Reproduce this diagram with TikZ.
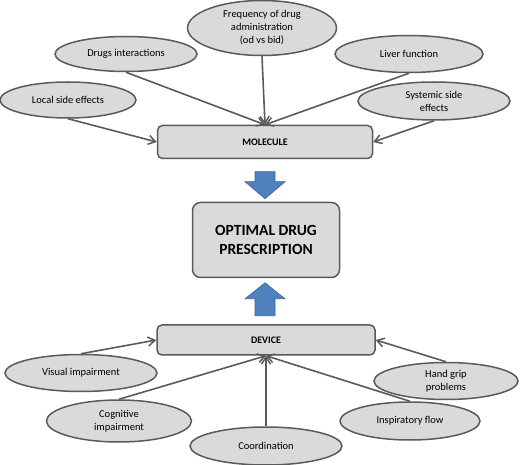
\documentclass[tikz,border=0pt]{standalone}
\usepackage{fontspec}
\setmainfont{Carlito}
\usetikzlibrary{arrows.meta,shapes.geometric,calc}
\definecolor{edge}   {HTML}{5A5A5A}
\definecolor{bubble} {HTML}{DADADA}
\definecolor{bluefill}{HTML}{4F81BD}
\definecolor{blueline}{HTML}{3A679C}
\tikzset{
  factor/.style  ={ellipse, draw=edge, fill=bubble, line width=1.5pt,
                   inner sep=0pt, align=center,
                   font=\fontsize{10.5}{13}\selectfont},
  group/.style   ={rectangle, rounded corners=5pt, draw=edge, fill=bubble,
                   line width=1.5pt, align=center,
                   font=\bfseries\fontsize{10}{12}\selectfont},
  goal/.style    ={group, rounded corners=8pt,
                   font=\bfseries\fontsize{15.5}{18.5}\selectfont},
  feed/.style    ={-{Straight Barb[length=7pt,width=9pt,line width=1.5pt]},
                   draw=edge, line width=1.6pt},
  bigarr/.style  ={draw=blueline, fill=bluefill, line width=0.6pt},
}
\begin{document}
\begin{tikzpicture}[x=1pt,y=-1pt]
  \useasboundingbox (0,0) rectangle (520,465);
  % molecule side
  \node[factor,minimum width=136pt,minimum height=36pt] (local) at (68,100) {Local side effects};
  \node[factor,minimum width=142pt,minimum height=35pt] (inter) at (126,54) {Drugs interactions};
  \node[factor,minimum width=149pt,minimum height=55pt] (freq) at (262,28)
    {Frequency of drug\\administration\\(od vs bid)};
  \node[factor,minimum width=148pt,minimum height=37pt] (liver) at (409,54) {Liver function};
  \node[factor,minimum width=152pt,minimum height=38pt] (syst) at (434,101)
    {Systemic side\\effects};
  \node[group,minimum width=215pt,minimum height=33pt] (mol) at (265,142) {MOLECULE};
  \draw[feed] (local.south) -- (mol.west);
  \draw[feed] (inter.south) -- (mol.north);
  \draw[feed] (freq.south) -- (mol.north);
  \draw[feed] (liver.south) -- (mol.north);
  \draw[feed] (syst.south) -- (mol.east);
  % centre
  \node[goal,minimum width=147pt,minimum height=75pt] (opt) at (266,240)
    {OPTIMAL DRUG\\PRESCRIPTION};
  \draw[bigarr] ($(opt.north)+(-11,-30)$) -- ++(20,0) -- ++(0,10) -- ++(10,0)
    -- ($(opt.north)+(-1,-3)$) -- ++(-20,-17) -- ++(10,0) -- cycle;
  \node[group,minimum width=218pt,minimum height=30pt] (dev) at (266,340) {DEVICE};
  \draw[bigarr] ($(opt.south)+(-11,37.5)$) -- ++(20,0) -- ++(0,-17) -- ++(10,0)
    -- ($(opt.south)+(-1,4.5)$) -- ++(-20,16) -- ++(10,0) -- cycle;
  % device side
  \node[factor,minimum width=152pt,minimum height=37pt] (visual) at (81,373) {Visual impairment};
  \node[factor,minimum width=145pt,minimum height=42pt] (cogn) at (119,421)
    {Cognitive\\impairment};
  \node[factor,minimum width=152pt,minimum height=38pt] (coord) at (266,446) {Coordination};
  \node[factor,minimum width=140pt,minimum height=38pt] (insp) at (410,421) {Inspiratory flow};
  \node[factor,minimum width=144pt,minimum height=37pt] (grip) at (446,381)
    {Hand grip\\problems};
  \draw[feed] (visual.north) -- (dev.west);
  \draw[feed] (cogn.north) -- (dev.south);
  \draw[feed] (coord.north) -- (dev.south);
  \draw[feed] (insp.north) -- (dev.south);
  \draw[feed] (grip.north) -- (dev.east);
\end{tikzpicture}
\end{document}
